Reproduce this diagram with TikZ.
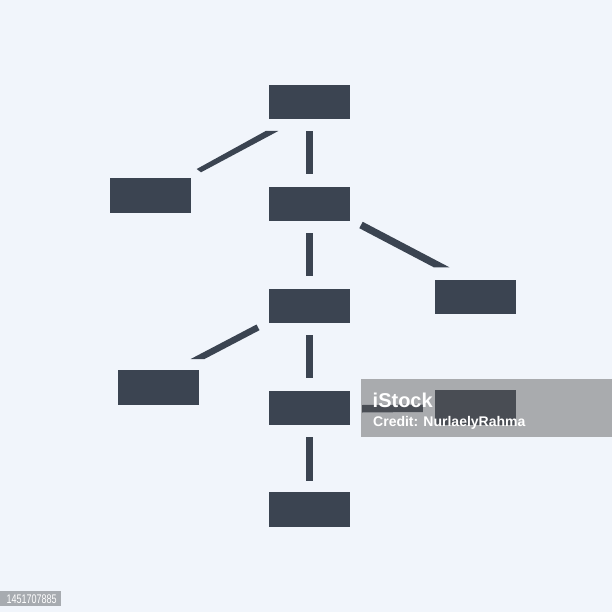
\documentclass[tikz,border=0pt]{standalone}
\usepackage{fontspec}
\setmainfont{Liberation Sans}
\definecolor{bgc}{HTML}{F1F5FB}
\definecolor{ink}{HTML}{3B4451}
\definecolor{bannerc}{HTML}{595959}
\definecolor{tagc}{HTML}{A7ABB0}
\tikzset{
  box/.style={fill=ink, minimum width=81pt, minimum height=34.5pt, inner sep=0pt, draw=none},
  vconn/.style={draw=ink, line width=7.5pt},
}
\begin{document}
\begin{tikzpicture}[x=1pt,y=-1pt]
\useasboundingbox (0,0) rectangle (612,612);
\fill[bgc] (0,0) rectangle (612,612);
% boxes
\node[box] (t)  at (309.5,102) {};
\node[box] (b2) at (309.5,204) {};
\node[box] (b3) at (309.5,306) {};
\node[box] (b4) at (309.5,408) {};
\node[box] (b5) at (309.5,509.5) {};
\node[box] (l1) at (150.5,195.5) {};
\node[box] (r1) at (475.5,297) {};
\node[box] (l2) at (158.5,387.5) {};
\node[box] (r2) at (475.5,407.5) {};
% vertical connectors
\draw[vconn] ([yshift=-12pt]t.south) -- ([yshift=12.5pt]b2.north);
\draw[vconn] ([yshift=-12pt]b2.south) -- ([yshift=12.5pt]b3.north);
\draw[vconn] ([yshift=-12pt]b3.south) -- ([yshift=12.5pt]b4.north);
\draw[vconn] ([yshift=-12pt]b4.south) -- ([yshift=11.5pt]b5.north);
% horizontal connector b4 -> r2
\draw[vconn] ([xshift=12pt,yshift=-0.75pt]b4.east) -- ([xshift=-12pt,yshift=-0.75pt]r2.west);
% diagonal connectors
\coordinate (c1a) at (265.7,131);
\coordinate (c1b) at (278.3,131);
\coordinate (c1c) at (201,172.3);
\coordinate (c1d) at (196.7,169);
\fill[ink] (c1a) -- (c1b) -- (c1c) -- (c1d) -- cycle;
\coordinate (c2a) at (362.7,221.8);
\coordinate (c2b) at (449.4,267.3);
\coordinate (c2c) at (433.8,267.3);
\coordinate (c2d) at (359.3,228.2);
\fill[ink] (c2a) -- (c2b) -- (c2c) -- (c2d) -- cycle;
\coordinate (c3a) at (256.5,324.5);
\coordinate (c3b) at (259.5,330.2);
\coordinate (c3c) at (204.5,359);
\coordinate (c3d) at (190.7,359);
\fill[ink] (c3a) -- (c3b) -- (c3c) -- (c3d) -- cycle;
% watermark banner
\fill[bannerc, opacity=0.47] (361,379) rectangle (612,437);
\node[anchor=base west, text=white, inner sep=0pt, font=\bfseries\fontsize{20}{20}\selectfont] (wm1) at (372.5,407) {iStock};
\node[anchor=base west, text=white, inner sep=0pt, font=\bfseries\fontsize{14}{14}\selectfont] (wm2) at (373,426) {Credit: NurlaelyRahma};
% id tag
\fill[tagc] (0,591) rectangle (61,605.7);
\node[anchor=base west, text=white, inner sep=0pt, font=\fontsize{12.5}{12.5}\selectfont] (tag) at (6.5,603) {\scalebox{0.72}[1]{1451707885}};
\end{tikzpicture}
\end{document}
